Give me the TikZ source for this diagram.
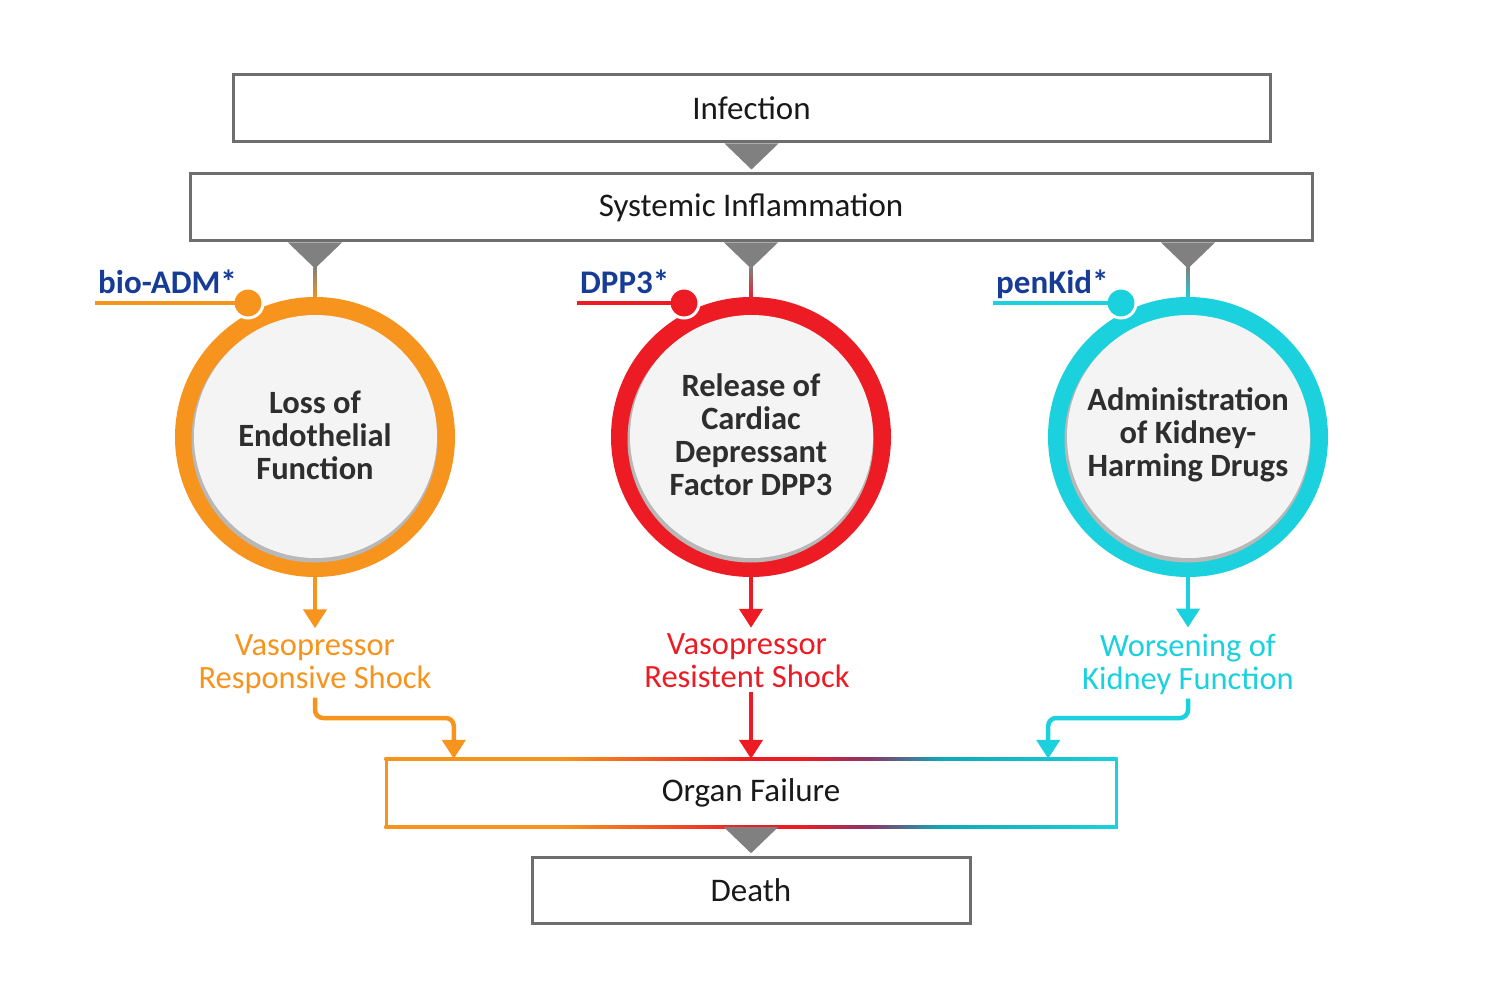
\documentclass[tikz,border=0pt]{standalone}
\usepackage{fontspec}
\setmainfont{Carlito}
\usetikzlibrary{arrows.meta,calc}
\definecolor{cOr}{HTML}{F7941D}
\definecolor{cRd}{HTML}{ED1C24}
\definecolor{cCy}{HTML}{1BD1DE}
\definecolor{cBl}{HTML}{163C96}
\definecolor{cGr}{HTML}{6E6E6E}
\definecolor{cTri}{HTML}{808080}
\definecolor{cIn}{HTML}{F4F4F4}
\definecolor{cRim}{HTML}{B8B8B8}
\definecolor{cTxt}{HTML}{2E2E2E}
\definecolor{cPu}{HTML}{8A3468}
\definecolor{cTe}{HTML}{0FA9B6}
\pgfdeclarehorizontalshading{ofgrad}{100bp}{color(0bp)=(cOr); color(25bp)=(cOr); color(37bp)=(cOr); color(50bp)=(cRd); color(53.5bp)=(cRd); color(58bp)=(cPu); color(63bp)=(cTe); color(75bp)=(cCy); color(100bp)=(cCy)}
\begin{document}
\begin{tikzpicture}[x=1pt,y=-1pt,
  box/.style={draw=cGr, line width=3pt, fill=white, minimum height=67pt, inner sep=0pt,
    font=\fontsize{33}{36}\selectfont, text=black!90},
  tri/.style={fill=cTri},
  conn/.style={line width=4.5pt, rounded corners=8pt, -{Triangle[width=23pt,length=19pt]}},
  ring/.style={circle, minimum size=280pt, inner sep=0pt},
  ctext/.style={font=\bfseries\fontsize{32.5}{33}\selectfont, text=cTxt, align=center, inner sep=0pt},
  ltext/.style={font=\fontsize{32.5}{33}\selectfont, align=center, inner sep=0pt},
  mk/.style={font=\bfseries\fontsize{33}{33}\selectfont, text=cBl, anchor=base west, inner sep=0pt},
  dot/.style={circle, draw=white, line width=3pt, minimum size=30pt, inner sep=0pt},
]
\useasboundingbox[fill=white] (0,0) rectangle (1499,1000);

% top boxes
\node[box, minimum width=1037pt] (inf) at (751.5,108.5) {Infection};
\node[box, minimum width=1122pt] (sys) at (751,207.5) {Systemic Inflammation};
\fill[tri] ($(inf.south)+(-27,0)$) -- ($(inf.south)+(27,0)$) -- ($(inf.south)+(0,26)$) -- cycle;

% circles
\foreach \nm/\cx/\col in {c1/315/cOr, c2/751/cRd, c3/1188/cCy}{
  \node[ring, fill=\col] (\nm) at (\cx,437) {};
  \fill[cRim] ($(\nm)+(-0.5,2.5)$) circle (123pt);
  \fill[cIn] ($(\nm)+(0.5,-0.5)$) circle (121.5pt);
  \fill[tri] ($(sys.south -| \nm)+(-27,0)$) -- ($(sys.south -| \nm)+(27,0)$) -- ($(sys.south -| \nm)+(0,26)$) -- cycle;
  \shade[top color=cTri, bottom color=\col] ($(sys.south -| \nm)+(-1.75,25)$) rectangle ($(\nm.north)+(1.75,3)$);
}
\node[ctext] (t1) at (315,435) {Loss of\\Endothelial\\Function};
\node[ctext] (t2) at (751,435) {Release of\\Cardiac\\Depressant\\Factor DPP3};
\node[ctext] (t3) at (1188,435) {Administration\\of Kidney-\\Harming Drugs};

% biomarker dots and labels
\node[dot, fill=cOr] (d1) at (248,303) {};
\node[dot, fill=cRd] (d2) at (684,303) {};
\node[dot, fill=cCy] (d3) at (1121,303) {};
\coordinate (l1) at (95,303);
\coordinate (l2) at (577,303);
\coordinate (l3) at (993,303);
\draw[cOr, line width=4pt] (l1) -- (d1.center);
\draw[cRd, line width=4pt] (l2) -- (d2.center);
\draw[cCy, line width=4pt] (l3) -- (d3.center);
\fill[cOr] (d1) circle (13pt);
\fill[cRd] (d2) circle (13pt);
\fill[cCy] (d3) circle (13pt);
\node[mk] (m1) at (98,294) {bio-ADM*};
\node[mk] (m2) at (580,294) {DPP3*};
\node[mk] (m3) at (996,294) {penKid*};

% outcome labels
\node[ltext, text=cOr] (v1) at (315,664) {Vasopressor\\Responsive Shock};
\node[ltext, text=cRd] (v2) at (747,661) {Vasopressor\\Resistent Shock};
\node[ltext, text=cCy] (v3) at (1188,664) {Worsening of\\Kidney Function};

% organ failure box with gradient frame
\node[minimum width=730pt, minimum height=68pt, inner sep=0pt, font=\fontsize{33}{36}\selectfont, text=black!90] (of) at (751,793) {Organ Failure};
\shade[shading=ofgrad] (384.5,757.5) rectangle (1117.5,760.5);
\shade[shading=ofgrad] (384.5,825.5) rectangle (1117.5,828.5);
\fill[cOr] (384.5,757.5) rectangle (387.5,828.5);
\fill[cCy] (1114.5,757.5) rectangle (1117.5,828.5);
\coordinate (ofL) at ($(of.north west)+(68,0)$);
\coordinate (ofR) at ($(of.north east)+(-68,0)$);

% death
\node[box, minimum width=438pt, minimum height=66pt] (death) at (751,890) {Death};
\fill[tri] ($(of.south)+(-27,0)$) -- ($(of.south)+(27,0)$) -- ($(of.south)+(0,26)$) -- cycle;

% connectors
\draw[conn, cOr, shorten >=6pt] (c1.south) -- (v1.north);
\draw[conn, cRd, shorten >=6pt] (c2.south) -- (c2.south |- v2.north);
\draw[conn, cCy, shorten >=6pt] (c3.south) -- (v3.north);
\draw[conn, cOr, shorten <=4pt] (v1.south) -- (v1.south |- 0,718) -| (ofL);
\draw[conn, cRd, shorten <=4pt] (c2.south |- v2.south) -- (of.north);
\draw[conn, cCy, shorten <=4pt] (v3.south) -- (v3.south |- 0,718) -| (ofR);
\end{tikzpicture}
\end{document}
